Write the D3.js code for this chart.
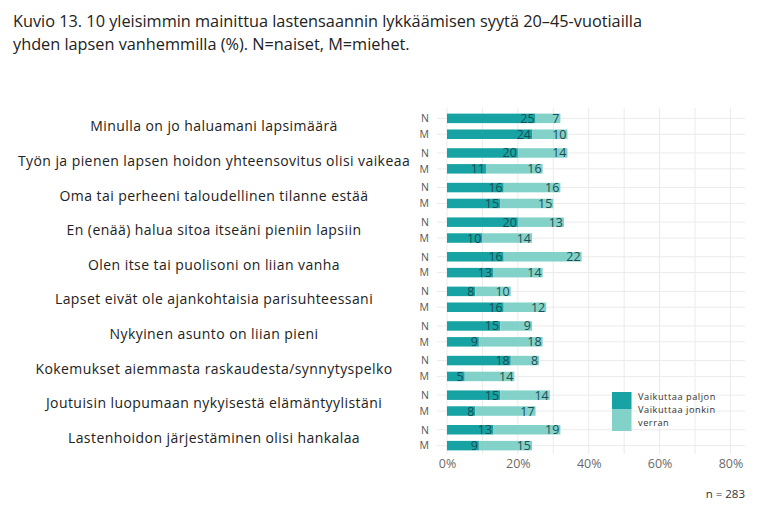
<!DOCTYPE html>
<html><head><meta charset="utf-8">
<script src="https://cdn.jsdelivr.net/npm/d3@7"></script>
<style>body{margin:0;background:#fff;} text{font-family:"Open Sans",sans-serif;}</style>
</head><body>
<svg id="c" width="768" height="527"></svg>
<script>
const categories = [
 "Minulla on jo haluamani lapsimäärä",
 "Työn ja pienen lapsen hoidon yhteensovitus olisi vaikeaa",
 "Oma tai perheeni taloudellinen tilanne estää",
 "En (enää) halua sitoa itseäni pieniin lapsiin",
 "Olen itse tai puolisoni on liian vanha",
 "Lapset eivät ole ajankohtaisia parisuhteessani",
 "Nykyinen asunto on liian pieni",
 "Kokemukset aiemmasta raskaudesta/synnytyspelko",
 "Joutuisin luopumaan nykyisestä elämäntyylistäni",
 "Lastenhoidon järjestäminen olisi hankalaa"
];
const genders = ["N","M"];
const paljonN = [25,20,16,20,16,8,15,18,15,13];
const jonkinN = [7,14,16,13,22,10,9,8,14,19];
const paljonM = [24,11,15,10,13,16,9,5,8,9];
const jonkinM = [10,16,15,14,14,12,18,14,17,15];
const seriesNames = ["Vaikuttaa paljon","Vaikuttaa jonkin verran"];
const xTicks = [0,20,40,60,80];
const title = ["Kuvio 13. 10 yleisimmin mainittua lastensaannin lykkäämisen syytä 20–45-vuotiailla",
               "yhden lapsen vanhemmilla (%). N=naiset, M=miehet."];
const note = "n = 283";

const colDark = "#17a3a3", colLight = "#82d2ca", labCol = "#1d4d52";
const svg = d3.select("#c");

// title
svg.append("text").attr("x",13).attr("y",27).attr("font-size",16.3).attr("fill","#222")
  .selectAll("tspan").data(title).join("tspan").attr("x",13).attr("dy",(d,i)=>i?23:0).text(d=>d);

const rows = [];
categories.forEach((c,i)=>{
  rows.push({cat:c,g:"N",i,p:paljonN[i],j:jonkinN[i]});
  rows.push({cat:c,g:"M",i,p:paljonM[i],j:jonkinM[i]});
});

const x = d3.scaleLinear().domain([-3.1,84.1]).range([436,745]);
const yCat = d3.scaleBand().domain(categories).range([109,455]).paddingInner(0.06).paddingOuter(0.03);
const yG = d3.scaleBand().domain(genders).range([0,yCat.bandwidth()]).padding(0.05);
const yRow = d => yCat(d.cat) + yG(d.g) + yG.bandwidth()/2;
const barH = 9.5;

const gTop = 108, gBottom = 454;
// gridlines
const grid = svg.append("g");
d3.range(0,81,10).forEach(v=>{
  grid.append("line").attr("x1",x(v)).attr("x2",x(v)).attr("y1",gTop).attr("y2",gBottom)
    .attr("stroke","#ebebeb").attr("stroke-width",1);
});
rows.forEach(d=>{
  grid.append("line").attr("x1",437).attr("x2",745).attr("y1",yRow(d)).attr("y2",yRow(d))
    .attr("stroke","#ebebeb").attr("stroke-width",1);
});

// bars
const bars = svg.append("g");
rows.forEach(d=>{
  const yc = yRow(d);
  bars.append("rect").attr("x",x(0)).attr("y",yc-barH/2).attr("width",x(d.p)-x(0)).attr("height",barH).attr("fill",colDark);
  bars.append("rect").attr("x",x(d.p)).attr("y",yc-barH/2).attr("width",x(d.p+d.j)-x(d.p)).attr("height",barH).attr("fill",colLight);
  bars.append("text").attr("x",x(d.p)-1).attr("y",yc).attr("dy","0.36em").attr("text-anchor","end")
    .attr("font-size",12.5).attr("fill",labCol).text(d.p);
  bars.append("text").attr("x",x(d.p+d.j)-1).attr("y",yc).attr("dy","0.36em").attr("text-anchor","end")
    .attr("font-size",12.5).attr("fill",labCol).text(d.j);
  svg.append("text").attr("x",429).attr("y",yc).attr("dy","0.36em").attr("text-anchor","end")
    .attr("font-size",10.5).attr("fill","#555").text(d.g);
});

// category labels
const catLabs = svg.append("g").selectAll("text").data(categories).join("text")
  .attr("x",214).attr("y",c=>yCat(c)+yCat.bandwidth()/2).attr("dy","0.36em")
  .attr("text-anchor","middle").attr("font-size",14).attr("fill","#222").text(c=>c);
// widen spacing so the longest label spans like the reference (~392px)
let maxW = 0, maxN = 1;
catLabs.each(function(c){ const w=this.getComputedTextLength(); if(w>maxW){maxW=w;maxN=c.length;} });
const ls = Math.max(0,(392-maxW)/maxN);
catLabs.attr("letter-spacing",ls.toFixed(2));

// x axis
const ax = svg.append("g").attr("transform",`translate(0,${gBottom})`)
  .call(d3.axisBottom(x).tickValues(xTicks).tickFormat(d=>d+"%").tickSize(0).tickPadding(5));
ax.select(".domain").remove();
ax.selectAll("text").attr("font-size",12.5).attr("fill","#6b6b6b").attr("font-family","Open Sans");

// legend
const lg = svg.append("g");
lg.append("rect").attr("x",612).attr("y",392).attr("width",19.5).attr("height",17.5).attr("fill",colDark);
lg.append("rect").attr("x",612).attr("y",409.5).attr("width",19.5).attr("height",21.5).attr("fill",colLight);
lg.append("text").attr("x",638).attr("y",399.5).attr("dy","0.36em").attr("font-size",9.2).attr("letter-spacing",0.55).attr("fill","#333")
  .selectAll("tspan").data([seriesNames[0],"Vaikuttaa jonkin","verran"]).join("tspan")
  .attr("x",638).attr("dy",(d,i)=>i===0?0:(i===1?13.5:12.5)).text(d=>d);

svg.append("text").attr("x",745).attr("y",494).attr("dy","0.36em").attr("text-anchor","end")
  .attr("font-size",11.5).attr("fill","#333").text(note);
</script>
</body></html>
